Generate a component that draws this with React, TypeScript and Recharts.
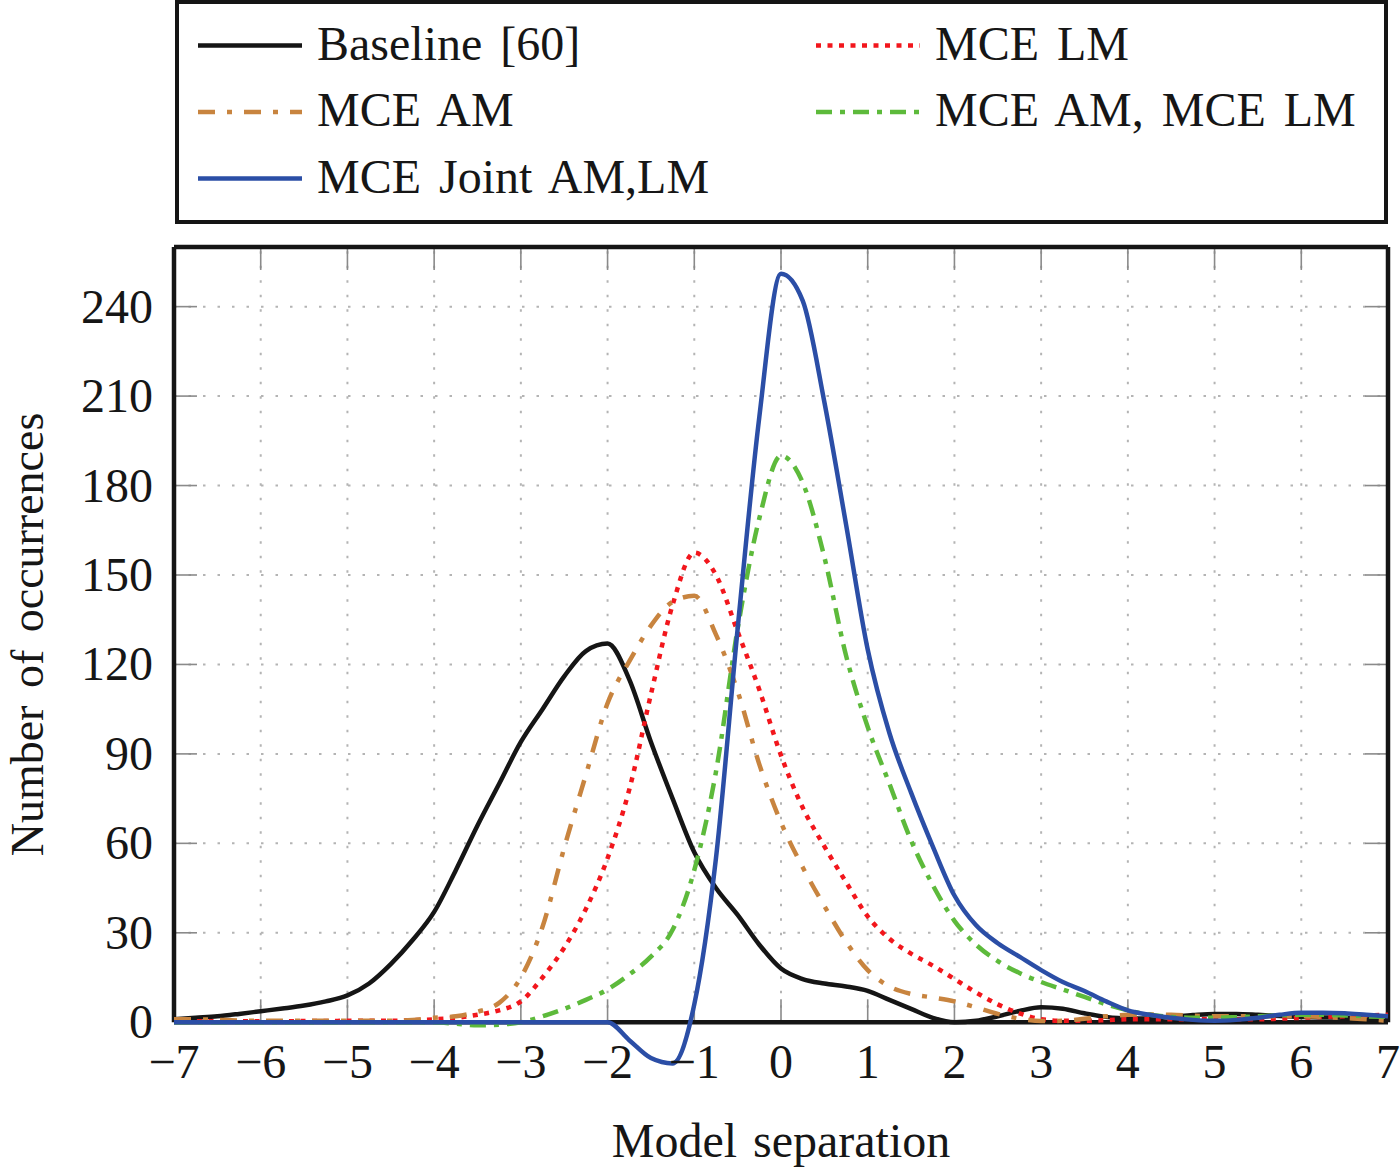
import React from 'react';
import { LineChart, Line, XAxis, YAxis, ReferenceLine, Legend } from 'recharts';

// x positions (model separation), step 0.25 from -7 to 7
const xs: number[] = [
  -7, -6.75, -6.5, -6.25, -6, -5.75, -5.5, -5.25, -5, -4.75, -4.5, -4.25,
  -4, -3.75, -3.5, -3.25, -3, -2.75, -2.5, -2.25, -2, -1.75, -1.5, -1.25,
  -1, -0.75, -0.5, -0.25, 0, 0.25, 0.5, 0.75, 1, 1.25, 1.5, 1.75,
  2, 2.25, 2.5, 2.75, 3, 3.25, 3.5, 3.75, 4, 4.25, 4.5, 4.75,
  5, 5.25, 5.5, 5.75, 6, 6.25, 6.5, 6.75, 7,
];

const baseline: number[] = [
  1, 1.5, 2, 2.8,
  3.7, 4.6, 5.6, 7,
  9, 13, 19.5, 27.5,
  37, 51, 66, 80,
  94, 105, 116, 124.5,
  127, 115, 94, 75,
  57, 45, 36, 26,
  18, 14.5, 13, 12,
  10.5, 7.5, 4.5, 1.5,
  0, 0.5, 2, 3.8,
  5, 4.5, 3, 1.8,
  1.3, 1.3, 1.8, 2.4,
  2.8, 2.8, 2.5, 2.1,
  1.8, 1.6, 1.5, 1.2,
  1,
];

const mceLM: number[] = [
  0.3, 0.3, 0.3, 0.3,
  0.3, 0.3, 0.4, 0.4,
  0.5, 0.5, 0.5, 0.7,
  1, 1.5, 2.5, 4,
  7, 15, 25, 38,
  55, 78, 110, 140,
  157.5, 150, 131, 111.5,
  89.5, 72, 59, 47,
  35.5, 28, 23, 19,
  14.5, 10, 6, 3,
  1, 0.5, 0.5, 0.7,
  1, 1, 1, 1,
  1, 1, 1, 1.2,
  1.5, 1.8, 2, 2.3,
  2.5,
];

const mceAM: number[] = [
  1, 1, 0.8, 0.6,
  0.5, 0.5, 0.5, 0.5,
  0.5, 0.5, 0.5, 0.8,
  1.5, 2, 3.5, 6.5,
  15, 32, 58.5, 83,
  107, 121, 133, 141,
  143, 130, 111, 86.5,
  67, 52, 39, 27,
  17.5, 12, 9.5, 8.3,
  7, 5, 2.8, 1.2,
  0.4, 0.5, 1.2, 2,
  2.5, 2.6, 2.5, 2.2,
  2, 2, 2, 2,
  2, 1.8, 1.4, 1,
  0.5,
];

const mceAMLM: number[] = [
  0, 0, 0, 0,
  0, 0, 0, 0,
  0, 0, 0, 0,
  0, -0.5, -1, -0.8,
  0, 2, 4.5, 7.5,
  11, 16, 22, 31,
  51, 84, 132, 169,
  190, 181, 156, 123,
  99, 80, 61, 46,
  34, 26, 20.5, 16.5,
  13.5, 11, 8.5, 6,
  4, 2.5, 1.8, 1.5,
  1.5, 1.7, 2, 2.3,
  2.5, 2.5, 2.3, 2,
  1.8,
];

const jointAMLM: number[] = [
  0, 0, 0, 0,
  0, 0, 0, 0,
  0, 0, 0, 0,
  0, 0, 0, 0,
  0, 0, 0, 0,
  0, -6, -12, -13.8,
  6, 55, 132, 203,
  251, 242, 208, 167,
  125, 97, 77, 59,
  42.5, 32.5, 26.5, 22,
  17.5, 13.5, 10.5, 7,
  4, 2.5, 1.5, 0.8,
  0.5, 0.8, 1.5, 2.5,
  3.2, 3.2, 3, 2.5,
  2,
];

const xTicks: number[] = [-7, -6, -5, -4, -3, -2, -1, 0, 1, 2, 3, 4, 5, 6, 7];
const yTicks: number[] = [0, 30, 60, 90, 120, 150, 180, 210, 240];
const X_MIN = -7;
const X_MAX = 7;
const Y_MIN = -14;
const Y_MAX = 260;

type Series = { key: string; name: string; values: number[]; color: string; dash?: string };

// plotting order (also legend order, filled row by row in 2 columns)
const series: Series[] = [
  { key: 'baseline', name: 'Baseline [60]', values: baseline, color: '#151515' },
  { key: 'mceLM', name: 'MCE LM', values: mceLM, color: '#F2161C', dash: '5 6.5' },
  { key: 'mceAM', name: 'MCE AM', values: mceAM, color: '#C8843F', dash: '17 12 5 12' },
  { key: 'mceAMLM', name: 'MCE AM, MCE LM', values: mceAMLM, color: '#5DBA3B', dash: '16 8 5 8' },
  { key: 'joint', name: 'MCE Joint AM,LM', values: jointAMLM, color: '#2B4EA6' },
];

const data = xs.map((x, i) => {
  const row: Record<string, number> = { x };
  series.forEach((s) => {
    row[s.key] = s.values[i];
  });
  return row;
});

const FONT = '"Liberation Serif", "Times New Roman", serif';
const TEXT = '#161616';
const fmt = (v: number) => (v < 0 ? '\u2212' + Math.abs(v) : String(v));

const XTick = (p: any) => (
  <text x={p.x} y={p.y} dy={6} textAnchor="middle" fontSize={48} fill={TEXT} fontFamily={FONT}>
    {fmt(p.payload.value)}
  </text>
);

const YTick = (p: any) => (
  <text x={p.x - 13} y={p.y} dy={16} textAnchor="end" fontSize={48} fill={TEXT} fontFamily={FONT}>
    {fmt(p.payload.value)}
  </text>
);

const LegendBox = () => (
  <svg width={1400} height={230} style={{ display: 'block' }}>
    <rect x={177} y={2} width={1209} height={220} fill="#fff" stroke="#151515" strokeWidth={4} />
    {series.map((s, i) => {
      const col = i % 2;
      const row = Math.floor(i / 2);
      const x0 = col === 0 ? 198 : 816;
      const yy = 45.5 + row * 66.5;
      return (
        <g key={s.key}>
          <line x1={x0} x2={x0 + 104} y1={yy} y2={yy} stroke={s.color} strokeWidth={4.5} strokeDasharray={s.dash} />
          <text x={x0 + 119} y={yy + 14} fontSize={48} fill={TEXT} fontFamily={FONT} wordSpacing={6}>
            {s.name}
          </text>
        </g>
      );
    })}
  </svg>
);

const gridStyle = { stroke: '#b4b4b4', strokeWidth: 2, strokeDasharray: '2.5 12' };
const tickStyle = { stroke: '#8a8a8a', strokeWidth: 1.6 };
const frameStyle = { stroke: '#151515', strokeWidth: 4.5 };
const TICK_Y = 7.7; // tick mark length in y units (~23px)
const TICK_X = 0.265; // tick mark length in x units (~23px)

export default function App() {
  const innerX = xTicks.filter((t) => t > X_MIN && t < X_MAX);
  const innerY = yTicks.filter((t) => t > 0);
  return (
    <div style={{ position: 'absolute', left: 0, top: 0, width: 1400, height: 1168, background: '#fff' }}>
      <LineChart
        width={1400}
        height={1168}
        data={data}
        margin={{ top: 247, right: 12, bottom: 0, left: 0 }}
        style={{ fontFamily: FONT }}
      >
        <XAxis
          dataKey="x"
          type="number"
          domain={[X_MIN, X_MAX]}
          ticks={xTicks}
          axisLine={false}
          tickLine={false}
          height={104}
          tick={<XTick />}
          interval={0}
          label={{
            value: 'Model separation',
            content: (p: any) => (
              <text
                x={p.viewBox.x + p.viewBox.width / 2}
                y={p.viewBox.y + 93}
                textAnchor="middle"
                fontSize={48}
                fill={TEXT}
                fontFamily={FONT}
                wordSpacing={4}
              >
                Model separation
              </text>
            ),
          }}
        />
        <YAxis
          type="number"
          domain={[Y_MIN, Y_MAX]}
          ticks={yTicks}
          axisLine={false}
          tickLine={false}
          width={174}
          tick={<YTick />}
          interval={0}
          label={{
            value: 'Number of occurrences',
            content: (p: any) => {
              const cx = 43;
              const cy = p.viewBox.y + 387.5;
              return (
                <text
                  x={cx}
                  y={cy}
                  textAnchor="middle"
                  fontSize={46}
                  fill={TEXT}
                  fontFamily={FONT}
                  wordSpacing={6}
                  transform={`rotate(-90, ${cx}, ${cy})`}
                >
                  Number of occurrences
                </text>
              );
            },
          }}
        />
        <Legend verticalAlign="middle" align="center" layout="horizontal" content={<LegendBox />} wrapperStyle={{ left: 0, top: 0, width: 1400, height: 230 }} />

        {/* dotted grid */}
        {innerX.map((t) => (
          <ReferenceLine key={'gx' + t} segment={[{ x: t, y: 0 }, { x: t, y: Y_MAX }]} {...gridStyle} />
        ))}
        {innerY.map((t) => (
          <ReferenceLine key={'gy' + t} segment={[{ x: X_MIN, y: t }, { x: X_MAX, y: t }]} {...gridStyle} />
        ))}
        {/* inner tick marks */}
        {innerX.map((t) => (
          <ReferenceLine key={'tb' + t} segment={[{ x: t, y: 0 }, { x: t, y: TICK_Y }]} {...tickStyle} />
        ))}
        {innerX.map((t) => (
          <ReferenceLine key={'tt' + t} segment={[{ x: t, y: Y_MAX - TICK_Y }, { x: t, y: Y_MAX }]} {...tickStyle} />
        ))}
        {innerY.map((t) => (
          <ReferenceLine key={'tl' + t} segment={[{ x: X_MIN, y: t }, { x: X_MIN + TICK_X, y: t }]} {...tickStyle} />
        ))}
        {innerY.map((t) => (
          <ReferenceLine key={'tr' + t} segment={[{ x: X_MAX - TICK_X, y: t }, { x: X_MAX, y: t }]} {...tickStyle} />
        ))}
        {/* frame */}
        <ReferenceLine segment={[{ x: X_MIN, y: 0 }, { x: X_MIN, y: Y_MAX }]} {...frameStyle} />
        <ReferenceLine segment={[{ x: X_MAX, y: 0 }, { x: X_MAX, y: Y_MAX }]} {...frameStyle} />
        <ReferenceLine segment={[{ x: X_MIN, y: Y_MAX }, { x: X_MAX, y: Y_MAX }]} {...frameStyle} />
        <ReferenceLine segment={[{ x: X_MIN, y: 0 }, { x: X_MAX, y: 0 }]} {...frameStyle} />

        {series.map((s) => (
          <Line
            key={s.key}
            dataKey={s.key}
            name={s.name}
            type="monotone"
            stroke={s.color}
            strokeWidth={4.5}
            strokeDasharray={s.dash}
            dot={false}
            activeDot={false}
            isAnimationActive={false}
          />
        ))}
      </LineChart>
    </div>
  );
}
